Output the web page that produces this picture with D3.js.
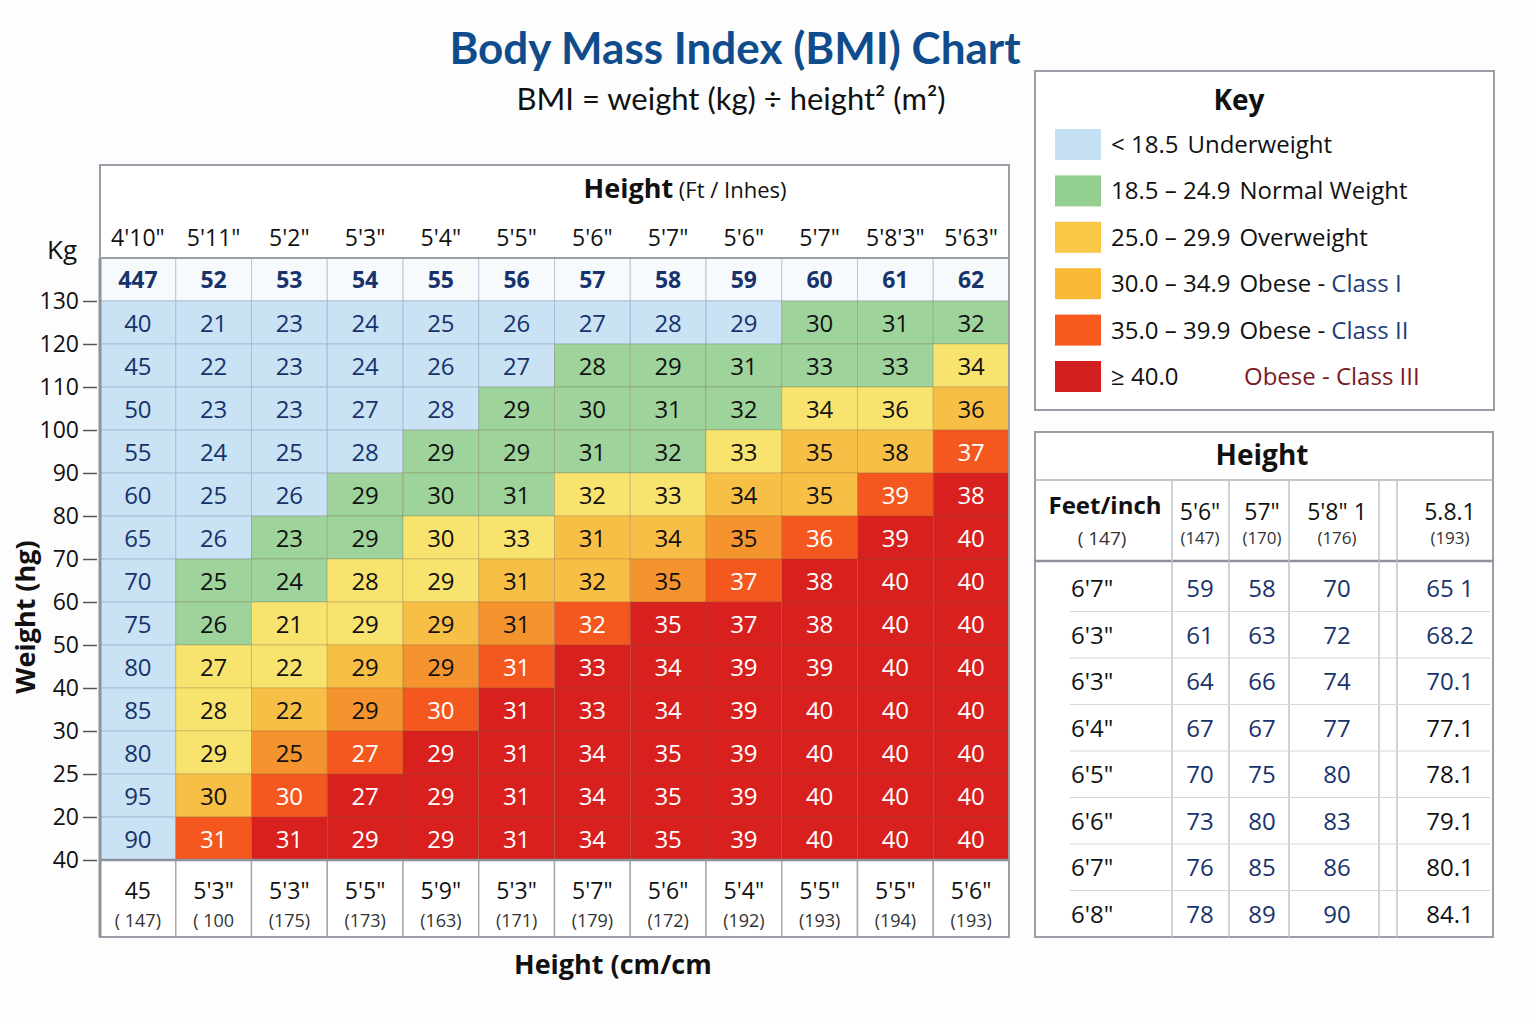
<!DOCTYPE html>
<html>
<head>
<meta charset="utf-8">
<script src="https://cdn.jsdelivr.net/npm/d3@7"></script>
<style>
  body { margin: 0; background: #fdfdfd; }
  svg { display: block; font-family: 'Open Sans', sans-serif; }
</style>
</head>
<body>
<svg></svg>
<script>
// column headings (top) and the bold number row under them
const colFeet = ['4\'10"', '5\'11"', '5\'2"', '5\'3"', '5\'4"', '5\'5"', '5\'6"', '5\'7"', '5\'6"', '5\'7"', '5\'8\'3"', '5\'63"'];
const colNums = [447, 52, 53, 54, 55, 56, 57, 58, 59, 60, 61, 62];

// weight ticks on the left, one per row boundary
const weightTicks = [130, 120, 110, 100, 90, 80, 70, 60, 50, 40, 30, 25, 20, 40];

// BMI grid, first column included
const bmiValues = [
  [40, 21, 23, 24, 25, 26, 27, 28, 29, 30, 31, 32],
  [45, 22, 23, 24, 26, 27, 28, 29, 31, 33, 33, 34],
  [50, 23, 23, 27, 28, 29, 30, 31, 32, 34, 36, 36],
  [55, 24, 25, 28, 29, 29, 31, 32, 33, 35, 38, 37],
  [60, 25, 26, 29, 30, 31, 32, 33, 34, 35, 39, 38],
  [65, 26, 23, 29, 30, 33, 31, 34, 35, 36, 39, 40],
  [70, 25, 24, 28, 29, 31, 32, 35, 37, 38, 40, 40],
  [75, 26, 21, 29, 29, 31, 32, 35, 37, 38, 40, 40],
  [80, 27, 22, 29, 29, 31, 33, 34, 39, 39, 40, 40],
  [85, 28, 22, 29, 30, 31, 33, 34, 39, 40, 40, 40],
  [80, 29, 25, 27, 29, 31, 34, 35, 39, 40, 40, 40],
  [95, 30, 30, 27, 29, 31, 34, 35, 39, 40, 40, 40],
  [90, 31, 31, 29, 29, 31, 34, 35, 39, 40, 40, 40]
];
// colour band of each cell as drawn (0 under .. 6 deep red)
const bmiBand = [
  [0, 0, 0, 0, 0, 0, 0, 0, 0, 1, 1, 1],
  [0, 0, 0, 0, 0, 0, 1, 1, 1, 1, 1, 2],
  [0, 0, 0, 0, 0, 1, 1, 1, 1, 2, 2, 3],
  [0, 0, 0, 0, 1, 1, 1, 1, 2, 3, 3, 5],
  [0, 0, 0, 1, 1, 1, 2, 2, 3, 3, 5, 6],
  [0, 0, 1, 1, 2, 2, 3, 3, 4, 5, 6, 6],
  [0, 1, 1, 2, 2, 3, 3, 4, 5, 6, 6, 6],
  [0, 1, 2, 2, 3, 4, 5, 6, 6, 6, 6, 6],
  [0, 2, 2, 3, 4, 5, 6, 6, 6, 6, 6, 6],
  [0, 2, 3, 4, 5, 6, 6, 6, 6, 6, 6, 6],
  [0, 2, 4, 5, 6, 6, 6, 6, 6, 6, 6, 6],
  [0, 3, 5, 6, 6, 6, 6, 6, 6, 6, 6, 6],
  [0, 5, 6, 6, 6, 6, 6, 6, 6, 6, 6, 6]
];

// bottom row
const bottomFeet = ['45', '5\'3"', '5\'3"', '5\'5"', '5\'9"', '5\'3"', '5\'7"', '5\'6"', '5\'4"', '5\'5"', '5\'5"', '5\'6"'];
const bottomCm = ['( 147)', '( 100', '(175)', '(173)', '(163)', '(171)', '(179)', '(172)', '(192)', '(193)', '(194)', '(193)'];

// key
const keyRanges = ['< 18.5', '18.5 – 24.9', '25.0 – 29.9', '30.0 – 34.9', '35.0 – 39.9', '≥ 40.0'];
const keyNames = ['Underweight', 'Normal Weight', 'Overweight', 'Obese - ', 'Obese - ', 'Obese - Class III'];
const keyClass = ['', '', '', 'Class I', 'Class II', ''];
const keyColors = ['#c6e0f3', '#93d08f', '#f9c847', '#f8b935', '#f65a1f', '#d31f1f'];

// right side height table
const sideHead = ['5\'6"', '57"', '5\'8"  1', '5.8.1'];
const sideHeadCm = ['(147)', '(170)', '(176)', '(193)'];
const sideRows = ['6\'7"', '6\'3"', '6\'3"', '6\'4"', '6\'5"', '6\'6"', '6\'7"', '6\'8"'];
const sideC1 = [59, 61, 64, 67, 70, 73, 76, 78];
const sideC2 = [58, 63, 66, 67, 75, 80, 85, 89];
const sideC3 = [70, 72, 74, 77, 80, 83, 86, 90];
const sideC4 = ['65 1', '68.2', '70.1', '77.1', '78.1', '79.1', '80.1', '84.1'];

const bandFill = ['#c9e2f4', '#9ed49c', '#f9e36f', '#f8bf47', '#f5942f', '#f4581f', '#d8211f'];
const navy = '#17336b';
const frame = '#9a9ea8';

const width = 1536, height = 1024;
const svg = d3.select('svg').attr('width', width).attr('height', height);

// title
svg.append('text')
  .attr('x', 735).attr('y', 64)
  .attr('text-anchor', 'middle')
  .attr('font-family', 'Lato, sans-serif')
  .attr('font-weight', 700).attr('font-size', 44)
  .attr('fill', '#0f4c8c')
  .text('Body Mass Index (BMI) Chart');
svg.append('text')
  .attr('x', 731).attr('y', 110)
  .attr('text-anchor', 'middle')
  .attr('font-family', 'Lato, sans-serif')
  .attr('font-size', 31).attr('fill', '#111')
  .text('BMI = weight (kg) ÷ height² (m²)');

// ---- main grid ----
const gridLeft = 100, gridRight = 1009;
const x = d3.scaleBand().domain(d3.range(colNums.length)).range([gridLeft, gridRight]);
const y = d3.scaleBand().domain(d3.range(bmiValues.length + 1)).range([258, 860]);

const grid = svg.append('g');

// header box
grid.append('rect')
  .attr('x', gridLeft).attr('y', 165)
  .attr('width', gridRight - gridLeft).attr('height', 258 - 165)
  .attr('fill', '#fff').attr('stroke', frame).attr('stroke-width', 2);
grid.append('text')
  .attr('x', 685).attr('y', 198)
  .attr('text-anchor', 'middle')
  .attr('font-size', 27).attr('fill', '#111')
  .call(t => t.append('tspan').attr('font-weight', 700).text('Height'))
  .call(t => t.append('tspan').attr('font-size', 22).text(' (Ft / Inhes)'));
grid.selectAll('.colfeet')
  .data(colFeet)
  .enter().append('text')
    .attr('class', 'colfeet')
    .attr('x', (d, i) => x(i) + x.bandwidth() / 2)
    .attr('y', 246)
    .attr('text-anchor', 'middle')
    .attr('font-size', 23).attr('fill', '#111')
    .text(d => d);

// bold number row
grid.selectAll('.numcell')
  .data(colNums)
  .enter().append('rect')
    .attr('class', 'numcell')
    .attr('x', (d, i) => x(i)).attr('y', y(0))
    .attr('width', x.bandwidth()).attr('height', y.bandwidth())
    .attr('fill', '#f7fafd')
    .attr('stroke', '#b8c6d6').attr('stroke-width', 1);
grid.selectAll('.numtext')
  .data(colNums)
  .enter().append('text')
    .attr('class', 'numtext')
    .attr('x', (d, i) => x(i) + x.bandwidth() / 2)
    .attr('y', y(0) + y.bandwidth() / 2 + 8)
    .attr('text-anchor', 'middle')
    .attr('font-size', 23).attr('font-weight', 700).attr('fill', navy)
    .text(d => d);

// bmi cells
let cells = [];
bmiValues.forEach((row, r) => {
  row.forEach((v, c) => cells.push({ r: r + 1, c: c, v: v, band: bmiBand[r][c] }));
});
grid.selectAll('.cell')
  .data(cells)
  .enter().append('rect')
    .attr('class', 'cell')
    .attr('x', d => x(d.c)).attr('y', d => y(d.r))
    .attr('width', x.bandwidth()).attr('height', y.bandwidth())
    .attr('fill', d => bandFill[d.band])
    .attr('stroke', d => d.band == 0 ? '#a6bfd8' : 'rgba(120,90,60,0.25)')
    .attr('stroke-width', 1);
grid.selectAll('.celltext')
  .data(cells)
  .enter().append('text')
    .attr('class', 'celltext')
    .attr('x', d => x(d.c) + x.bandwidth() / 2)
    .attr('y', d => y(d.r) + y.bandwidth() / 2 + 9)
    .attr('text-anchor', 'middle')
    .attr('font-size', 24)
    .attr('fill', d => d.band == 0 ? navy : (d.band >= 5 ? '#fff' : '#111'))
    .text(d => d.v);

// bottom row
const botTop = 860, botBottom = 937;
grid.selectAll('.botcell')
  .data(bottomFeet)
  .enter().append('rect')
    .attr('class', 'botcell')
    .attr('x', (d, i) => x(i)).attr('y', botTop)
    .attr('width', x.bandwidth()).attr('height', botBottom - botTop)
    .attr('fill', '#fff').attr('stroke', '#a7abb4').attr('stroke-width', 1.5);
grid.selectAll('.botfeet')
  .data(bottomFeet)
  .enter().append('text')
    .attr('class', 'botfeet')
    .attr('x', (d, i) => x(i) + x.bandwidth() / 2)
    .attr('y', 899)
    .attr('text-anchor', 'middle')
    .attr('font-size', 23).attr('fill', '#111')
    .text(d => d);
grid.selectAll('.botcm')
  .data(bottomCm)
  .enter().append('text')
    .attr('class', 'botcm')
    .attr('x', (d, i) => x(i) + x.bandwidth() / 2)
    .attr('y', 927)
    .attr('text-anchor', 'middle')
    .attr('font-size', 18).attr('fill', '#333')
    .text(d => d);

// frame lines
grid.append('rect')
  .attr('x', gridLeft).attr('y', 258)
  .attr('width', gridRight - gridLeft).attr('height', botBottom - 258)
  .attr('fill', 'none').attr('stroke', frame).attr('stroke-width', 2);
grid.append('line')
  .attr('x1', gridLeft).attr('x2', gridRight).attr('y1', botTop).attr('y2', botTop)
  .attr('stroke', '#8d919b').attr('stroke-width', 2.5);
grid.append('line')
  .attr('x1', gridLeft).attr('x2', gridLeft).attr('y1', 258).attr('y2', botBottom)
  .attr('stroke', '#8d919b').attr('stroke-width', 3);

// weight axis
const yTick = d3.scaleLinear().domain([0, weightTicks.length - 1]).range([y(1), botTop]);
const yAxis = d3.axisLeft(yTick)
  .tickValues(d3.range(weightTicks.length))
  .tickFormat(i => weightTicks[i])
  .tickSize(14).tickPadding(4);
const ax = svg.append('g')
  .attr('transform', `translate(${gridLeft - 3},0)`)
  .call(yAxis);
ax.select('.domain').remove();
ax.selectAll('.tick line').attr('stroke', '#555').attr('stroke-width', 1.5);
ax.selectAll('.tick text')
  .attr('font-family', 'Open Sans, sans-serif')
  .attr('font-size', 23).attr('fill', '#111');

svg.append('text')
  .attr('x', 62).attr('y', 259)
  .attr('text-anchor', 'middle')
  .attr('font-size', 26).attr('fill', '#111')
  .text('Kg');
svg.append('text')
  .attr('transform', 'translate(35,617) rotate(-90)')
  .attr('text-anchor', 'middle')
  .attr('font-size', 27).attr('font-weight', 700).attr('fill', '#111')
  .text('Weight (hg)');
svg.append('text')
  .attr('x', 514).attr('y', 974)
  .attr('font-size', 27).attr('font-weight', 700).attr('fill', '#111')
  .text('Height (cm/cm');

// ---- key ----
const key = svg.append('g');
key.append('rect')
  .attr('x', 1035).attr('y', 71).attr('width', 459).attr('height', 339)
  .attr('fill', '#fff').attr('stroke', frame).attr('stroke-width', 2);
key.append('text')
  .attr('x', 1239).attr('y', 110)
  .attr('text-anchor', 'middle')
  .attr('font-size', 28).attr('font-weight', 700).attr('fill', '#111')
  .text('Key');
const ky = d3.scalePoint().domain(d3.range(keyRanges.length)).range([144, 376]);
key.selectAll('.sw')
  .data(keyColors)
  .enter().append('rect')
    .attr('class', 'sw')
    .attr('x', 1055).attr('y', (d, i) => ky(i) - 15)
    .attr('width', 46).attr('height', 31)
    .attr('fill', d => d);
let keyText = key.selectAll('.kt')
  .data(keyRanges)
  .enter().append('text')
    .attr('class', 'kt')
    .attr('x', 1111).attr('y', (d, i) => ky(i) + 9)
    .attr('font-size', 24).attr('fill', '#111');
keyText.each(function (d, i) {
  const t = d3.select(this);
  t.append('tspan').text(d);
  if (i == keyRanges.length - 1) {
    t.append('tspan').attr('x', 1244).attr('fill', '#7c1a1f').text(keyNames[i]);
  } else {
    t.append('tspan').attr('dx', 9).text(keyNames[i]);
    if (keyClass[i]) t.append('tspan').attr('fill', '#1c3d7c').text(keyClass[i]);
  }
});

// ---- side height table ----
const side = svg.append('g');
const sLeft = 1035, sRight = 1493, sTop = 432, sBottom = 937;
side.append('rect')
  .attr('x', sLeft).attr('y', sTop).attr('width', sRight - sLeft).attr('height', sBottom - sTop)
  .attr('fill', '#fff').attr('stroke', frame).attr('stroke-width', 2);
side.append('text')
  .attr('x', 1262).attr('y', 465)
  .attr('text-anchor', 'middle')
  .attr('font-size', 28).attr('font-weight', 700).attr('fill', '#111')
  .text('Height');
side.append('line')
  .attr('x1', sLeft).attr('x2', sRight).attr('y1', 480).attr('y2', 480)
  .attr('stroke', '#b0b5bf').attr('stroke-width', 1.5);
side.append('line')
  .attr('x1', sLeft).attr('x2', sRight).attr('y1', 561).attr('y2', 561)
  .attr('stroke', '#8d919b').attr('stroke-width', 2.5);
const sideDividers = [1172, 1229, 1289, 1379, 1397];
side.selectAll('.sdiv')
  .data(sideDividers)
  .enter().append('line')
    .attr('class', 'sdiv')
    .attr('x1', d => d).attr('x2', d => d).attr('y1', 480).attr('y2', sBottom)
    .attr('stroke', '#bfc3cb').attr('stroke-width', 1.5);

const sy = d3.scaleBand().domain(d3.range(sideRows.length)).range([565, sBottom]);
side.selectAll('.srow')
  .data(sideRows.slice(1))
  .enter().append('line')
    .attr('class', 'srow')
    .attr('x1', 1070).attr('x2', 1490)
    .attr('y1', (d, i) => sy(i + 1)).attr('y2', (d, i) => sy(i + 1))
    .attr('stroke', '#d3d6dc').attr('stroke-width', 1.2);

side.append('text')
  .attr('x', 1105).attr('y', 514)
  .attr('text-anchor', 'middle')
  .attr('font-size', 24).attr('font-weight', 700).attr('fill', '#111')
  .text('Feet/inch');
side.append('text')
  .attr('x', 1102).attr('y', 545)
  .attr('text-anchor', 'middle')
  .attr('font-size', 19).attr('fill', '#333')
  .text('( 147)');

const sideColX = [1200, 1262, 1337, 1450];
side.selectAll('.shead')
  .data(sideHead)
  .enter().append('text')
    .attr('class', 'shead')
    .attr('x', (d, i) => sideColX[i]).attr('y', 520)
    .attr('text-anchor', 'middle')
    .attr('font-size', 23).attr('fill', '#111')
    .text(d => d);
side.selectAll('.sheadcm')
  .data(sideHeadCm)
  .enter().append('text')
    .attr('class', 'sheadcm')
    .attr('x', (d, i) => sideColX[i]).attr('y', 544)
    .attr('text-anchor', 'middle')
    .attr('font-size', 17).attr('fill', '#333')
    .text(d => d);

side.selectAll('.slabel')
  .data(sideRows)
  .enter().append('text')
    .attr('class', 'slabel')
    .attr('x', 1071).attr('y', (d, i) => sy(i) + sy.bandwidth() / 2 + 9)
    .attr('font-size', 24).attr('fill', '#111')
    .text(d => d);
[sideC1, sideC2, sideC3, sideC4].forEach((col, ci) => {
  side.selectAll(`.sc${ci}`)
    .data(col)
    .enter().append('text')
      .attr('class', `sc${ci}`)
      .attr('x', sideColX[ci]).attr('y', (d, i) => sy(i) + sy.bandwidth() / 2 + 9)
      .attr('text-anchor', 'middle')
      .attr('font-size', 24)
      .attr('fill', (d, i) => (ci < 3 || i < 3) ? navy : '#111')
      .text(d => d);
});
</script>
</body>
</html>
